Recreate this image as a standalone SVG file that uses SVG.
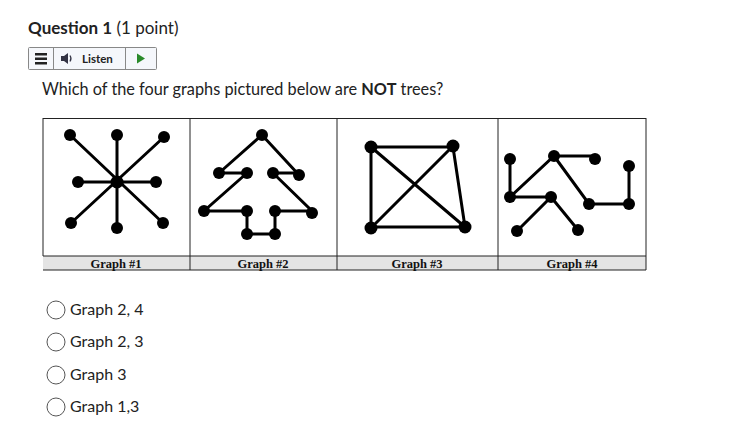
<svg xmlns="http://www.w3.org/2000/svg" width="735" height="425" viewBox="0 0 735 425">
<style>
.e{stroke:#000;stroke-width:3;fill:none}
.n{fill:#000}
.t{font-family:"Lato","Liberation Sans",sans-serif;fill:#222}
.g{font-family:"Liberation Serif",serif;font-weight:bold;font-size:12.5px;text-anchor:middle;fill:#111}
</style>
<rect width="735" height="425" fill="#fff"/>
<text class="t" x="28" y="34" font-size="17"><tspan font-weight="bold">Question 1</tspan> (1 point)</text>
<g id="listen">
<rect x="28.5" y="47.5" width="128" height="22" fill="#f5f7fb" stroke="#888" rx="1"/>
<line x1="53.5" y1="47.5" x2="53.5" y2="69.5" stroke="#888"/>
<line x1="125.5" y1="47.5" x2="125.5" y2="69.5" stroke="#888"/>
<rect x="35" y="53" width="12" height="2.5" fill="#222"/><rect x="35" y="57.5" width="12" height="2.5" fill="#222"/><rect x="35" y="62" width="12" height="2.5" fill="#222"/>
<path d="M61 56h3l4-3v11l-4-3h-3z" fill="#334"/>
<path d="M70 55.5q2 3 0 6" stroke="#334" stroke-width="1.2" fill="none"/>
<text class="t" x="82" y="62.5" font-size="11.5" font-weight="bold" fill="#333">Listen</text>
<path d="M137 53.5l8 5-8 5z" fill="#2a8a2a"/>
</g>
<text class="t" x="42" y="95" font-size="16.3">Which of the four graphs pictured below are <tspan font-weight="bold">NOT</tspan> trees?</text>
<g id="frame">
<rect x="43" y="256" width="603" height="14" fill="#e4e4e4"/>
<line x1="43" y1="118.5" x2="646" y2="118.5" stroke="#222" stroke-width="1.2"/>
<line x1="43" y1="256" x2="646" y2="256" stroke="#222" stroke-width="1"/>
<line x1="43" y1="270" x2="646" y2="270" stroke="#222" stroke-width="1"/>
<line x1="43" y1="118" x2="43" y2="256" stroke="#222"/>
<line x1="190" y1="118" x2="190" y2="270" stroke="#222"/>
<line x1="337" y1="118" x2="337" y2="270" stroke="#222"/>
<line x1="498" y1="118" x2="498" y2="270" stroke="#222"/>
<line x1="646" y1="118" x2="646" y2="270" stroke="#222"/>
<text class="g" x="116" y="267.5">Graph #1</text>
<text class="g" x="263" y="267.5">Graph #2</text>
<text class="g" x="417" y="267.5">Graph #3</text>
<text class="g" x="572" y="267.5">Graph #4</text>
</g>
<g id="connectors">
<path class="e" d="M70 135L163 223M117 135V228M164 137L71 223M78 182H156"/>
<path class="e" d="M219 173L262 135L299 175M219 173H247M273 173H299M247 173L204 211H247V234H275V211H312L273 173"/>
<path class="e" d="M371 147H453L465 227H371ZM371 147L465 227M453 146L371 228"/>
<path class="e" d="M510 159V197L554 156H595M554 156L589 204H629V166M510 197H551L517 231M551 197L578 230"/>
</g>
<g id="graph1" class="n">
<circle cx="117" cy="182" r="6.5"/><circle cx="70" cy="135" r="6"/><circle cx="117" cy="135" r="6"/><circle cx="164" cy="137" r="6"/><circle cx="78" cy="182" r="6"/><circle cx="156" cy="182" r="6"/><circle cx="71" cy="223" r="6"/><circle cx="117" cy="228" r="6"/><circle cx="163" cy="223" r="6"/>
</g>
<g id="graph2" class="n">
<circle cx="262" cy="135" r="6"/><circle cx="219" cy="173" r="6"/><circle cx="247" cy="173" r="6"/><circle cx="273" cy="173" r="6"/><circle cx="299" cy="175" r="6"/><circle cx="204" cy="211" r="6"/><circle cx="247" cy="211" r="6"/><circle cx="275" cy="211" r="6"/><circle cx="312" cy="213" r="6"/><circle cx="247" cy="234" r="6"/><circle cx="275" cy="234" r="6"/>
</g>
<g id="graph3" class="n">
<circle cx="371" cy="147" r="6.5"/><circle cx="453" cy="146" r="6.5"/><circle cx="371" cy="228" r="6.5"/><circle cx="465" cy="227" r="6.5"/>
</g>
<g id="graph4" class="n">
<circle cx="510" cy="159" r="6"/><circle cx="554" cy="156" r="6"/><circle cx="595" cy="159" r="6"/><circle cx="629" cy="166" r="6"/><circle cx="510" cy="197" r="6"/><circle cx="551" cy="197" r="6"/><circle cx="589" cy="204" r="6"/><circle cx="629" cy="204" r="6"/><circle cx="517" cy="231" r="6"/><circle cx="578" cy="230" r="6"/>
</g>
<g id="options" class="t" font-size="16">
<circle cx="56" cy="310" r="9" fill="#fff" stroke="#555"/><text x="70" y="315">Graph 2, 4</text>
<circle cx="56" cy="342" r="9" fill="#fff" stroke="#555"/><text x="70" y="347">Graph 2, 3</text>
<circle cx="56" cy="375" r="9" fill="#fff" stroke="#555"/><text x="70" y="380">Graph 3</text>
<circle cx="56" cy="407" r="9" fill="#fff" stroke="#555"/><text x="70" y="412">Graph 1,3</text>
</g>
</svg>
